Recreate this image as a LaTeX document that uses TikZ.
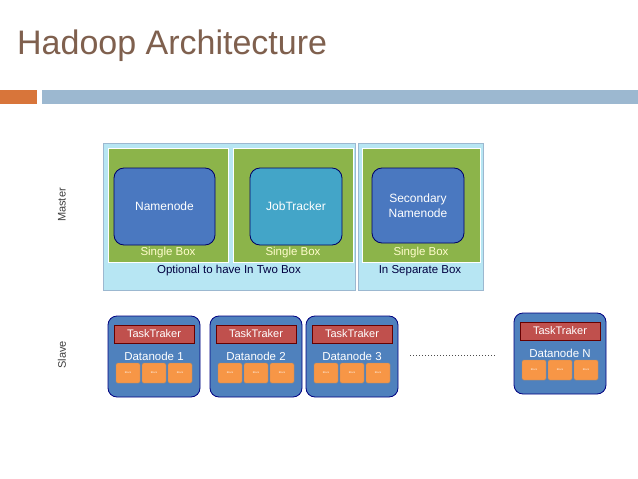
\documentclass[tikz,border=0pt]{standalone}
\usepackage{fontspec}
\setmainfont{Liberation Sans}
\definecolor{cgreen}{HTML}{8CB44A}
\definecolor{cnn}{HTML}{4A78C0}
\definecolor{cjt}{HTML}{43A5C8}
\definecolor{cdn}{HTML}{4F81BD}
\definecolor{cred}{HTML}{C0504D}
\definecolor{corg}{HTML}{F79646}
\definecolor{cbar}{HTML}{9CB8D0}
\definecolor{cobar}{HTML}{D8753A}
\definecolor{ctitle}{HTML}{7F604E}
\definecolor{ccyan}{HTML}{B7E6F3}
\begin{document}
\begin{tikzpicture}[x=1pt,y=-1pt,
 outer/.style={fill=ccyan,draw=cbar,line width=0.8pt},
 grn/.style={fill=cgreen,draw=white,line width=0.8pt},
 inn/.style={rounded corners=10pt,draw=blue!40!black,line width=0.8pt,align=center,text=white,font=\fontsize{12}{15}\selectfont},
 dn/.style={fill=cdn,rounded corners=9pt,draw=blue!50!black,line width=0.8pt},
 tt/.style={fill=cred,draw=red!40!black,text=white,font=\fontsize{11}{12}\selectfont,inner sep=0pt},
 blk/.style={fill=corg,draw=orange!50!black!60,rounded corners=1.5pt,text=white,font=\fontsize{2.5}{3}\selectfont,inner sep=0pt},
 wt/.style={text=white!80!yellow,font=\fontsize{11.5}{12}\selectfont}]
\useasboundingbox (0,0) rectangle (638,479);
\fill[white] (0,0) rectangle (638,479);
\node[anchor=base west,text=ctitle,font=\fontsize{34}{38}\selectfont,inner sep=0] (title) at (17,54) {Hadoop Architecture};
\fill[cobar] (0,90) rectangle (37,104);
\fill[cbar] (42,90) rectangle (638,104);
\node[rotate=90,font=\fontsize{11}{12}\selectfont,text=black!75] (master) at (62,205) {Master};
\node[rotate=90,font=\fontsize{11}{12}\selectfont,text=black!75] (slave) at (62,355) {Slave};
\draw[outer] (103,143) rectangle (355,290);
\draw[outer] (358,143) rectangle (483,290);
\foreach \a/\b in {108/228,233/353,362/480}{\draw[grn] (\a,148) rectangle (\b,262);}
\node[inn,fill=cnn,minimum width=101,minimum height=77] (nn) at (164.5,206.5) {Namenode};
\node[inn,fill=cjt,minimum width=92,minimum height=77] (jt) at (296,206.5) {JobTracker};
\node[inn,fill=cnn,minimum width=92,minimum height=75] (sn) at (418,205.5) {Secondary\\Namenode};
\node[wt] (s1) at (168,253) {Single Box};
\node[wt] (s2) at (293,253) {Single Box};
\node[wt] (s3) at (421,253) {Single Box};
\node[font=\fontsize{11.5}{12}\selectfont,text=blue!25!black] (o1) at (229,271) {Optional to have In Two Box};
\node[font=\fontsize{11.5}{12}\selectfont,text=blue!25!black] (o2) at (420,271) {In Separate Box};
\foreach \x/\y/\t/\n in {108/316/1/d1,210/316/2/d2,306/316/3/d3,514/313/N/dN}{
 \draw[dn] (\x,\y) rectangle ++(92,81);
 \node[tt,minimum width=80,minimum height=18] (\n t) at (\x+46,\y+18) {TaskTraker};
 \node[text=white,font=\fontsize{11.5}{12}\selectfont] (\n l) at (\x+46,\y+40) {Datanode \t};
 \foreach \k in {0,1,2}{\node[blk,minimum width=24,minimum height=20] (\n b\k) at (\x+20+\k*26,\y+57) {Block};}
}
\draw[dotted,line width=1pt,black!70] (410,355) -- (495,355);
\end{tikzpicture}
\end{document}
